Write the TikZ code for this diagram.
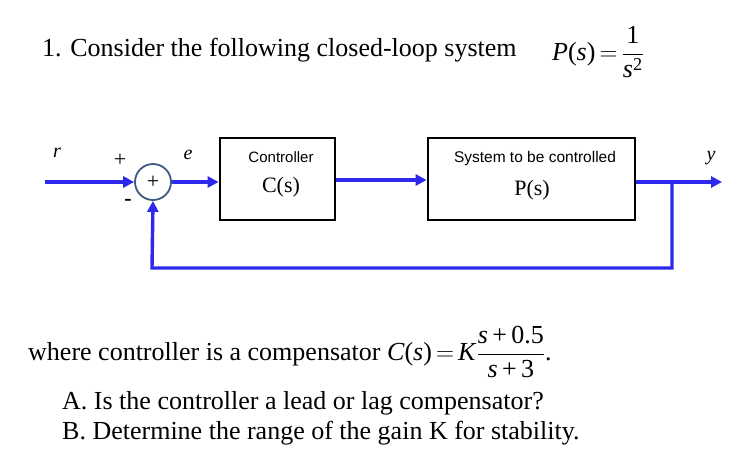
\documentclass[tikz,border=0pt]{standalone}
\usepackage{amsmath}
\usepackage{fontspec}
\setmainfont{Liberation Serif}
\newfontfamily\sans{Liberation Sans}
\usetikzlibrary{arrows.meta}
\definecolor{sig}{RGB}{45,40,235}
\definecolor{ring}{RGB}{60,90,130}
\newcommand{\mv}[1]{\mbox{\textit{#1}}}
\begin{document}
\begin{tikzpicture}[x=1pt,y=-1pt,
  sigline/.style={draw=sig,line width=3.4pt},
  arr/.style={sigline,-{Triangle[length=11pt,width=11pt]}},
  blk/.style={draw,line width=2.8pt,minimum width=#1,minimum height=82pt,inner sep=0pt},
  big/.style={font=\fontsize{26}{30}\selectfont,anchor=west,inner sep=0pt},
  lab/.style={font=\fontsize{20}{22}\selectfont\itshape,inner sep=0pt}]
\useasboundingbox (0,0) rectangle (750,468);
\node[big] (t1) at (42,50) {1. Consider the following closed-loop system};
\node[big] (p1) at (552,52) {\mv{P}(\mv{s})$\,=\,$$\dfrac{\text{1}}{\mv{s}^{\text{2}}}$};
\node[lab] (r) at (57,153) {r};
\node[lab] (e) at (188,155) {e};
\node[lab] (y) at (711,158) {y};
\node[font=\fontsize{22}{22}\selectfont] (pl) at (120,160) {+};
\node[font=\fontsize{22}{22}\selectfont\bfseries] (mi) at (128,202) {-};
\coordinate (in) at (45,182);
\node[circle,draw=ring,line width=1.8pt,minimum size=36pt,inner sep=0pt,font=\fontsize{22}{22}\selectfont] (sum) at (153,182) {+};
\node[blk=115pt] (c) at (277.5,179) {};
\node[font=\sans\fontsize{15}{17}\selectfont] (ct) at (281,157) {Controller};
\node[font=\fontsize{22}{24}\selectfont] (cs) at (281,187) {C(s)};
\node[blk=207pt] (p) at (531.5,179) {};
\node[font=\sans\fontsize{15.5}{17}\selectfont] (pt) at (535,158) {System to be controlled};
\node[font=\fontsize{22}{24}\selectfont] (ps) at (532,190) {P(s)};
\coordinate (out) at (722,182);
\coordinate (br) at (672,182);
\coordinate (fb1) at (672,268);
\coordinate (fb2) at (152,268);
\draw[arr] (in) -- (sum.west);
\draw[arr] (sum.east) -- (c.west|-sum.east);
\draw[arr] (c.east|-0,180) -- (p.west|-0,180);
\draw[arr] (p.east|-out) -- (out);
\draw[sigline,-{Triangle[length=11pt,width=11pt]}] (br) -- (fb1) -- (fb2) -- (sum.south);
\node[big] (w) at (28,352) {where controller is a compensator \mv{C}(\mv{s})$\,=\,$\mv{K}$\dfrac{\text{\mv{s}\,+\,0.5}}{\text{\mv{s}\,+\,3}}$.};
\node[big] (a) at (62,403) {A. Is the controller a lead or lag compensator?};
\node[big] (b) at (62,433) {B. Determine the range of the gain K for stability.};
\end{tikzpicture}
\end{document}
